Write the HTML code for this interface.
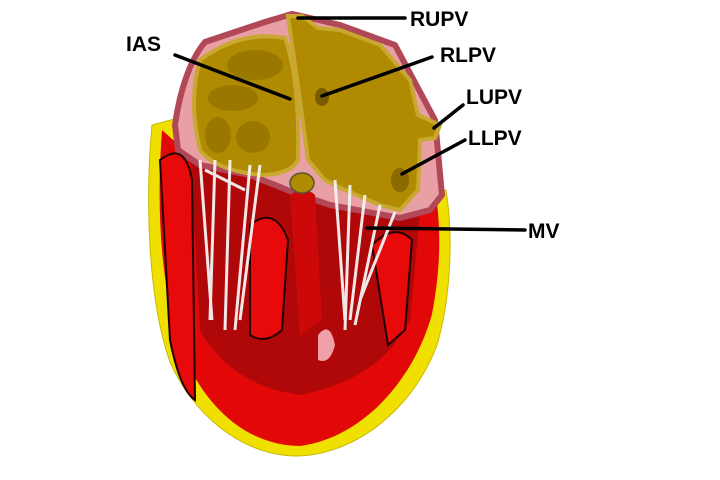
<!DOCTYPE html>
<html><head><style>
body{margin:0;background:#fff;}
svg{display:block}
text{font-family:"Liberation Sans",sans-serif;font-weight:bold;font-size:21px;fill:#000}
</style></head><body>
<svg width="720" height="480" viewBox="0 0 720 480">
<path d="M152,125 L178,118 C168,200 170,300 195,360 C225,420 265,440 300,440 C360,432 412,375 430,310 C440,260 436,220 432,195 L446,190 C454,240 450,300 437,345 C412,412 352,456 295,456 C238,454 192,412 170,362 C148,300 145,200 152,125 Z" fill="#f0e000" stroke="#c8b800"/>
<path d="M162,130 C156,210 160,300 188,365 C220,428 265,446 300,446 C362,438 414,380 432,314 C442,262 440,225 436,195 L380,215 L240,200 Z" fill="#e20808"/>
<path d="M190,150 L260,170 L330,200 L420,212 L410,320 Q380,380 300,395 Q230,385 200,330 Z" fill="#b00808"/>
<path d="M175,125 C180,90 190,60 205,42 L265,22 L292,14 L310,18 L340,25 L395,45 L435,120 L442,195 L430,210 L400,218 L330,205 L300,195 L250,175 L200,165 L178,150 Z" fill="#e8a0a5" stroke="#b04858" stroke-width="6"/>
<path d="M200,60 Q240,30 285,38 Q300,80 298,160 Q290,175 260,175 Q215,170 200,150 Q188,100 200,60 Z" fill="#b08a00" stroke="#c8a830" stroke-width="4"/>
<ellipse cx="255" cy="65" rx="28" ry="15" fill="#9a7800"/>
<ellipse cx="233" cy="98" rx="25" ry="13" fill="#9a7800"/>
<ellipse cx="218" cy="135" rx="13" ry="18" fill="#9a7800"/>
<ellipse cx="253" cy="137" rx="17" ry="16" fill="#9a7800"/>
<path d="M288,16 L302,16 L318,28 L340,30 L380,45 L410,80 L418,115 L440,125 L435,138 L420,140 L418,190 L400,210 L380,205 L345,190 L325,180 L308,160 L300,100 Z" fill="#b08a00" stroke="#c8a830" stroke-width="4"/>
<ellipse cx="322" cy="97" rx="7" ry="9" fill="#7a5c00"/>
<ellipse cx="400" cy="180" rx="9" ry="12" fill="#8a6a00"/>
<path d="M160,160 Q185,140 192,180 L195,400 Q180,390 170,340 Z" fill="#e80a0a" stroke="#200" stroke-width="2"/>
<path d="M250,225 Q275,205 288,240 L282,330 Q265,345 250,335 Z" fill="#e80a0a" stroke="#200" stroke-width="2"/>
<path d="M290,195 Q305,185 315,195 L322,320 L300,335 Z" fill="#cc0808"/>
<path d="M372,245 Q395,222 412,240 L405,330 L388,345 Z" fill="#e80a0a" stroke="#200" stroke-width="2"/>
<ellipse cx="302" cy="183" rx="12" ry="10" fill="#b08a00" stroke="#553" stroke-width="1.5"/>
<path d="M318,335 Q330,320 335,345 Q330,365 318,360 Z" fill="#f0a0a8"/>
<g stroke="#f4f4f4" stroke-width="3" fill="none" opacity="0.95">
<path d="M200,160 L212,320"/><path d="M215,160 L210,320"/><path d="M230,160 L225,330"/><path d="M250,165 L235,330"/><path d="M260,165 L240,320"/><path d="M205,170 L245,190"/>
<path d="M335,180 L345,320"/><path d="M350,185 L345,330"/><path d="M365,195 L350,320"/><path d="M380,205 L355,325"/><path d="M395,212 L360,300"/>
</g>
<g stroke="#000" stroke-width="3.5" stroke-linecap="round">
<line x1="298" y1="18" x2="405" y2="18"/>
<line x1="175" y1="55" x2="290" y2="99"/>
<line x1="322" y1="96" x2="432" y2="57"/>
<line x1="434" y1="128" x2="463" y2="105"/>
<line x1="402" y1="174" x2="465" y2="140"/>
<line x1="367" y1="228" x2="525" y2="230"/>
</g>
<text x="410" y="26">RUPV</text>
<text x="126" y="51">IAS</text>
<text x="440" y="62">RLPV</text>
<text x="466" y="104">LUPV</text>
<text x="468" y="145">LLPV</text>
<text x="528" y="238">MV</text>
</svg>
</body></html>
